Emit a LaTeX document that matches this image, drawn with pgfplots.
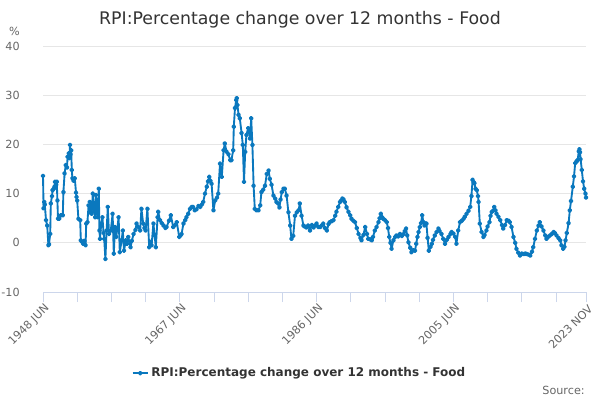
\documentclass[border=0pt]{standalone}
\usepackage{pgfplots}
\pgfplotsset{compat=1.18}
\usepackage{fontspec}
\setmainfont{DejaVu Sans}
\definecolor{ser}{HTML}{0A78BE}
\definecolor{gridc}{HTML}{E6E6E6}
\definecolor{axc}{HTML}{CCD6EB}
\definecolor{lab}{HTML}{666666}
\definecolor{ttl}{HTML}{333333}
\begin{document}
\begin{tikzpicture}
\path[use as bounding box] (0,0) rectangle (450bp,300bp);
\node[text=ttl, font=\fontsize{13bp}{15bp}\selectfont] at (225bp,285.5bp) {RPI:Percentage change over 12 months - Food};
\node[text=lab, font=\fontsize{8.4bp}{10bp}\selectfont] at (10.9bp,276.2bp) {\%};
\node[text=lab, font=\fontsize{8.4bp}{10bp}\selectfont, anchor=east] at (442bp,7.5bp) {Source:};
\begin{axis}[
    at={(32.25bp,81bp)}, anchor=south west,
    scale only axis,
    width=407.25bp, height=184.5bp,
    xmin=0, xmax=905, ymin=-10, ymax=40,
    axis x line*=bottom,
    axis y line*=left,
    x axis line style={draw=axc, line width=0.75bp},
    y axis line style={draw=none},
    ymajorgrids, grid style={draw=gridc, line width=0.75bp},
    ytick={-10,0,10,20,30,40},
    yticklabels={-10,0,10,20,30,40},
    xtick={0,228,456,684,905},
    xticklabels={1948 JUN,1967 JUN,1986 JUN,2005 JUN,2023 NOV},
    minor xtick={57,114,171,285,342,399,513,570,627,741,798,855},
    tick align=outside,
    xtick style={draw=axc, line width=0.75bp},
    major tick length=7.5bp, minor tick length=7.5bp,
    ytick style={draw=none},
    xticklabel style={rotate=45, anchor=east, text=lab, font=\fontsize{8.4bp}{10bp}\selectfont, inner sep=1bp, yshift=-5bp, xshift=1bp},
    yticklabel style={text=lab, font=\fontsize{8.4bp}{10bp}\selectfont, anchor=east, xshift=-6.5bp},
    clip=false,
    legend style={at={(0.473,-0.33)}, anchor=center, draw=none, fill=none,
        text=ttl, font=\bfseries\fontsize{9bp}{11bp}\selectfont},
    legend image code/.code={\draw[mark repeat=2,mark phase=2] plot coordinates {(0cm,0cm) (0.2cm,0cm) (0.4cm,0cm)};},
]
\addplot[color=ser, line width=1.4bp, mark=*, mark size=1.1bp, line join=round] table {
m v
0 13.6
1 7.0
2 8.3
3 7.8
5 4.6
7 3.5
9 -0.5
10 -0.3
12 1.8
13 8.0
15 9.5
16 10.7
18 11.0
19 11.4
20 12.4
22 11.8
23 12.4
24 8.6
25 4.9
27 4.9
30 5.6
33 5.6
34 10.3
36 14.1
38 15.8
40 15.3
41 17.5
43 18.2
44 17.2
45 19.9
46 18.0
47 18.8
48 14.8
49 13.1
51 12.6
53 13.1
55 10.2
56 9.3
57 8.6
59 4.9
62 4.6
63 0.5
65 0.2
67 -0.2
69 0.4
71 -0.5
72 3.9
74 4.2
76 7.6
77 6.2
78 8.3
80 7.1
81 5.9
83 10.0
85 6.4
87 5.2
88 9.7
90 7.0
91 5.2
93 11.0
94 2.5
95 0.8
97 3.9
99 5.2
101 2.0
102 0.8
104 -3.3
106 2.5
108 7.3
110 1.8
113 2.5
116 5.9
118 -2.2
120 3.2
122 1.2
124 3.0
126 5.2
128 -1.9
131 0.5
133 2.5
135 -1.6
138 0.5
140 -0.2
142 1.2
146 -0.9
148 0.4
151 1.8
154 2.6
156 3.9
159 3.2
162 2.5
164 6.9
167 3.9
169 3.0
171 2.5
174 6.9
177 -0.9
179 0.2
181 -0.5
184 3.9
186 1.5
188 -0.9
191 5.2
192 6.3
195 4.6
198 4.0
201 3.5
204 3.0
206 3.2
210 4.5
213 5.6
217 3.2
220 3.6
223 4.2
227 1.2
229 1.5
231 1.8
234 3.9
237 4.6
239 5.2
242 5.9
245 6.9
248 7.3
250 7.3
253 6.6
256 6.8
259 7.5
262 7.3
265 7.8
267 8.3
270 10.0
273 11.4
275 12.5
277 13.4
279 12.6
281 12.0
284 6.6
287 8.6
290 9.2
292 10.0
295 16.1
298 13.4
301 18.8
303 20.2
306 18.5
309 18.0
312 16.8
314 16.8
317 18.8
318 23.6
320 27.4
322 29.0
323 29.4
324 28.0
326 26.0
328 25.3
331 22.3
333 19.9
335 12.4
337 18.5
339 21.9
342 23.3
345 21.2
347 25.3
349 19.9
351 11.6
353 6.9
356 6.6
359 6.6
362 7.6
364 10.3
367 10.8
370 11.6
373 14.0
376 14.7
378 13.0
381 11.8
384 9.6
387 9.0
389 8.3
392 8.0
394 7.2
396 8.8
398 10.3
401 11.0
403 11.0
406 9.6
409 6.2
412 3.5
414 0.8
417 1.4
420 5.5
423 6.2
426 6.6
428 8.0
431 5.5
434 3.5
436 3.3
439 3.1
442 3.5
445 2.5
448 3.6
451 3.1
454 3.5
456 3.9
459 3.2
462 3.2
465 3.6
467 3.9
470 3.0
473 2.5
476 3.8
478 4.2
481 4.4
484 4.6
487 5.5
489 6.3
492 7.3
495 8.3
497 8.6
499 9.0
501 8.8
503 8.3
506 7.2
509 6.3
512 5.6
514 4.9
517 4.5
520 4.2
523 3.0
526 1.8
529 1.0
531 0.5
534 1.6
537 3.2
540 1.8
542 0.8
545 0.7
548 0.5
550 1.2
553 2.5
556 3.2
559 4.2
561 5.0
563 5.9
565 5.2
567 4.9
570 4.6
573 4.2
575 3.0
577 1.2
579 0.0
581 -1.2
584 0.5
587 1.2
589 1.5
592 1.3
595 1.8
598 1.4
601 1.8
603 2.4
605 2.9
607 1.5
609 0.1
612 -1.0
614 -1.9
617 -1.5
620 -1.6
622 -0.2
624 1.2
626 2.2
628 3.2
630 4.0
632 5.6
634 4.2
636 3.5
638 3.9
639 3.9
641 1.0
643 -1.6
646 -0.8
648 -0.2
650 0.6
653 1.5
656 2.2
659 2.9
661 2.4
664 1.8
667 0.8
670 -0.2
673 0.6
676 1.2
679 1.8
681 2.2
684 1.9
687 1.2
689 -0.2
692 2.5
695 4.2
698 4.5
701 4.9
703 5.3
706 5.9
709 6.5
712 7.3
714 9.5
716 12.8
718 12.3
719 12.1
721 11.0
723 10.7
725 9.5
726 8.3
728 3.9
731 2.2
734 1.2
736 1.6
739 2.5
741 3.3
744 4.2
746 5.5
748 6.3
750 6.5
752 7.3
754 6.6
756 5.9
759 5.3
762 4.6
765 3.6
767 2.9
770 3.6
773 4.6
776 4.5
778 4.2
781 3.2
784 1.2
787 0.0
789 -1.2
792 -2.0
795 -2.6
798 -2.2
801 -2.3
804 -2.2
806 -2.3
809 -2.4
812 -2.6
815 -1.8
817 -0.9
820 0.8
823 2.5
826 3.5
828 4.2
831 3.3
834 2.5
837 1.5
839 0.8
842 1.2
845 1.5
848 1.8
851 2.2
853 2.0
856 1.5
859 1.0
862 0.5
864 -0.5
867 -1.2
869 -0.8
871 0.5
873 2.0
876 4.0
878 6.6
880 8.5
883 11.4
885 13.5
887 16.2
889 16.5
891 16.8
893 18.6
894 19.0
895 18.4
896 17.0
898 14.8
900 12.5
902 11.0
904 10.0
905 9.2
};
\addlegendentry{RPI:Percentage change over 12 months - Food}
\end{axis}
\end{tikzpicture}
\end{document}
